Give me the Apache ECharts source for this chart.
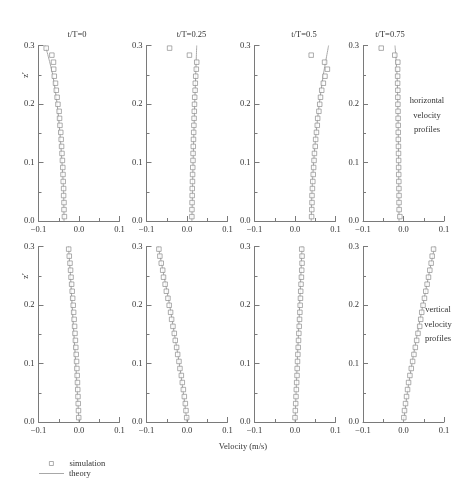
<!DOCTYPE html>
<html>
<head>
<meta charset="utf-8">
<script src="https://cdn.jsdelivr.net/npm/echarts@6/dist/echarts.min.js"></script>
<style>
  html, body { margin: 0; padding: 0; background: #fff; }
  #chart { width: 474px; height: 503px; }
</style>
</head>
<body>
<div id="chart"></div>
<script>
// depths of the simulated points, top to bottom
var simZ = [0.2955, 0.2835, 0.2715, 0.2595, 0.2475, 0.2355, 0.2235, 0.2115, 0.1995, 0.1875,
  0.1755, 0.1635, 0.1515, 0.1395, 0.1275, 0.1155, 0.1035, 0.0915, 0.0795, 0.0675,
  0.0555, 0.0435, 0.0315, 0.0195, 0.0075];
// depths of the theory curve
var theoryZ = [0, 0.05, 0.1, 0.15, 0.2, 0.25, 0.3];

var phases = ['t/T=0', 't/T=0.25', 't/T=0.5', 't/T=0.75'];

// horizontal velocity, simulation (top to bottom)
var hSim0 = [-0.081, -0.067, -0.063, -0.0625, -0.061, -0.058, -0.056, -0.054, -0.052, -0.049,
  -0.048, -0.047, -0.045, -0.044, -0.043, -0.042, -0.041, -0.040, -0.0395, -0.039,
  -0.038, -0.038, -0.037, -0.037, -0.036];
var hSim25 = [-0.043, 0.006, 0.024, 0.023, 0.0215, 0.0205, 0.020, 0.019, 0.0185, 0.018,
  0.0175, 0.017, 0.0165, 0.016, 0.0155, 0.015, 0.0148, 0.0142, 0.0138, 0.0135,
  0.013, 0.0128, 0.0125, 0.0122, 0.012];
var hSim50 = [null, 0.040, 0.073, 0.080, 0.074, 0.070, 0.066, 0.063, 0.061, 0.059,
  0.056, 0.055, 0.053, 0.051, 0.050, 0.048, 0.047, 0.046, 0.045, 0.044,
  0.043, 0.042, 0.042, 0.0415, 0.041];
var hSim75 = [-0.055, -0.0216, -0.014, -0.0145, -0.0145, -0.0145, -0.014, -0.014, -0.0138, -0.0135,
  -0.0133, -0.013, -0.013, -0.0128, -0.0125, -0.0123, -0.012, -0.012, -0.0118, -0.0115,
  -0.0113, -0.011, -0.011, -0.0108, -0.009];

// vertical velocity, simulation (top to bottom)
var vSim0 = [-0.0255, -0.024, -0.0222, -0.0208, -0.0196, -0.0182, -0.0168, -0.0156, -0.0143, -0.0132,
  -0.012, -0.0109, -0.0099, -0.0089, -0.0079, -0.0069, -0.006, -0.0052, -0.0045, -0.0038,
  -0.0031, -0.0025, -0.0019, -0.0013, -0.0007];
var vSim25 = [-0.0694, -0.067, -0.0636, -0.060, -0.058, -0.054, -0.051, -0.047, -0.044, -0.0405,
  -0.038, -0.0347, -0.0314, -0.029, -0.0256, -0.023, -0.0198, -0.0174, -0.014, -0.0116,
  -0.009, -0.0066, -0.0041, -0.0025, -0.0008];
var vSim50 = [0.0166, 0.0174, 0.0174, 0.0166, 0.0158, 0.0149, 0.0141, 0.0135, 0.0128, 0.012,
  0.0112, 0.0104, 0.0095, 0.0087, 0.0079, 0.0071, 0.0062, 0.0054, 0.005, 0.0041,
  0.0033, 0.0025, 0.0017, 0.0008, 0.0];
var vSim75 = [0.0742, 0.0708, 0.0683, 0.065, 0.0617, 0.0583, 0.055, 0.0517, 0.0483, 0.045,
  0.0425, 0.040, 0.0358, 0.0325, 0.0292, 0.0258, 0.0225, 0.0192, 0.0158, 0.0125,
  0.010, 0.0075, 0.005, 0.0025, 0.0008];

// theory curves (at theoryZ)
var hTh0 = [-0.037, -0.038, -0.042, -0.047, -0.054, -0.065, -0.083];
var hTh25 = [0.012, 0.0135, 0.015, 0.017, 0.019, 0.0215, 0.024];
var hTh50 = [0.040, 0.042, 0.046, 0.052, 0.060, 0.070, 0.083];
var hTh75 = [-0.011, -0.0115, -0.012, -0.013, -0.014, -0.016, -0.021];
var vTh0 = [0, -0.004, -0.008, -0.0125, -0.017, -0.021, -0.026];
var vTh25 = [0, -0.009, -0.019, -0.031, -0.043, -0.057, -0.071];
var vTh50 = [0, 0.0027, 0.0055, 0.0085, 0.0115, 0.0145, 0.0175];
var vTh75 = [0, 0.0095, 0.021, 0.034, 0.048, 0.062, 0.077];

var simAll = [hSim0, hSim25, hSim50, hSim75, vSim0, vSim25, vSim50, vSim75];
var thAll = [hTh0, hTh25, hTh50, hTh75, vTh0, vTh25, vTh50, vTh75];

var FONT = '"Liberation Serif", "DejaVu Serif", serif';
var TXT = '#333';
var AX = '#7a7a7a';
var LINE = '#a8a8a8';

var colLeft = [38.5, 146.5, 254.5, 363];
var rowTop = [45.5, 246.5];
var plotW = 81, plotH = 175.5;

function fmt(v) {
  if (Math.abs(v) < 1e-9) return '0.0';
  return (v < 0 ? '\u2212' : '') + Math.abs(v).toFixed(1);
}

var grids = [], xAxes = [], yAxes = [], series = [];
for (var k = 0; k < 8; k++) {
  var r = Math.floor(k / 4), c = k % 4;
  grids.push({ left: colLeft[c], top: rowTop[r], width: plotW, height: plotH });
  var common = {
    gridIndex: k,
    type: 'value',
    interval: 0.1,
    splitLine: { show: false },
    axisLine: { show: true, onZero: false, lineStyle: { color: AX, width: 1 } },
    axisTick: { show: true, inside: true, length: 5, lineStyle: { color: AX } },
    minorTick: { show: true, splitNumber: 2, length: 3, lineStyle: { color: AX } },
    axisLabel: { fontFamily: FONT, fontSize: 8.5, color: TXT, formatter: fmt, margin: 4 }
  };
  xAxes.push(Object.assign({}, common, { min: -0.1, max: 0.1 }));
  yAxes.push(Object.assign({}, common, { min: 0, max: 0.3 }));

  var simData = [];
  simAll[k].forEach(function (x, i) { if (x !== null) simData.push([x, simZ[i]]); });
  var thData = thAll[k].map(function (x, i) { return [x, theoryZ[i]]; });

  series.push({
    name: 'theory', type: 'line', xAxisIndex: k, yAxisIndex: k,
    data: thData, symbol: 'none', smooth: 0.3, silent: true,
    lineStyle: { color: LINE, width: 1 }, itemStyle: { color: LINE }, z: 2
  });
  series.push({
    name: 'simulation', type: 'scatter', xAxisIndex: k, yAxisIndex: k,
    data: simData, symbol: 'rect', symbolSize: 4.5,
    itemStyle: { color: '#fff', borderColor: '#808080', borderWidth: 0.8 }, z: 3
  });
}

function txt(s, x, y, extra) {
  return Object.assign({
    type: 'text', x: x, y: y,
    style: { text: s, font: '8.5px ' + FONT, fill: TXT, align: 'center', verticalAlign: 'middle' }
  }, extra || {});
}

var titleX = [77, 191.5, 304, 390];
var graphics = phases.map(function (p, i) { return txt(p, titleX[i], 35); });
graphics.push(txt('horizontal', 427, 101), txt('velocity', 427, 115.5), txt('profiles', 427, 130));
graphics.push(txt('vertical', 438, 310), txt('velocity', 438, 324.5), txt('profiles', 438, 339));
graphics.push(txt('Velocity (m/s)', 243, 447));
graphics.push(txt('z\u2032', 26, 75, { rotation: Math.PI / 2 }));
graphics.push(txt('z\u2032', 26, 276, { rotation: Math.PI / 2 }));

var chart = echarts.init(document.getElementById('chart'), null, { renderer: 'canvas' });
chart.setOption({
  backgroundColor: '#fff',
  animation: false,
  grid: grids,
  xAxis: xAxes,
  yAxis: yAxes,
  legend: [
    { data: [{ name: 'simulation', icon: 'rect' }], left: 49, top: 459, padding: 0,
      itemWidth: 4, itemHeight: 4,
      itemStyle: { color: '#fff', borderColor: '#808080', borderWidth: 0.8 },
      textStyle: { fontFamily: FONT, fontSize: 8.5, color: TXT, padding: [0, 0, 0, 11] } },
    { data: [{ name: 'theory', icon: 'path://M0,0L100,0L100,4L0,4Z' }], left: 39, top: 469, padding: 0,
      itemWidth: 25, itemHeight: 1,
      itemStyle: { color: LINE },
      textStyle: { fontFamily: FONT, fontSize: 8.5, color: TXT } }
  ],
  graphic: graphics,
  series: series
});
</script>
</body>
</html>
